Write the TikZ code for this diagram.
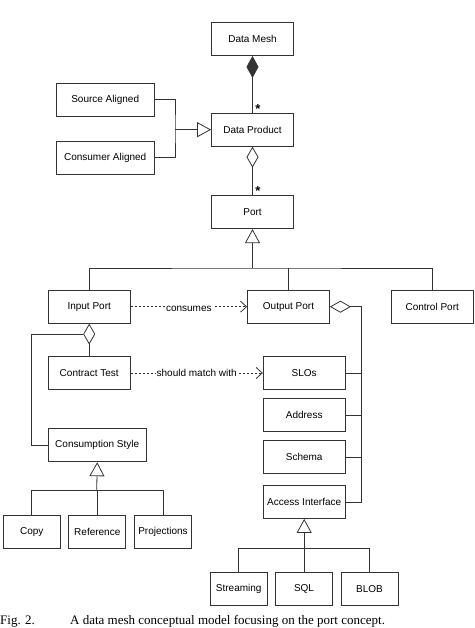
\documentclass[tikz,border=0pt]{standalone}
\usepackage{fontspec}
\setmainfont{Liberation Serif}
\setsansfont{Liberation Sans}
\usetikzlibrary{arrows.meta}

\tikzset{
  cls/.style={draw=black!80, line width=.8pt, minimum width=82pt, minimum height=33pt,
    inner sep=1pt, font=\sffamily\fontsize{10}{12}\selectfont},
  wide/.style={cls, minimum width=98pt},
  small/.style={cls, minimum width=57pt},
  lnk/.style={draw=black!80, line width=.8pt},
  gen/.style={lnk, -{Triangle[open, length=14pt, width=15pt]}},
  agg/.style={lnk, {Diamond[open, length=21pt, width=12pt]}-},
  comp/.style={lnk, {Diamond[length=22pt, width=12pt]}-},
  dep/.style={lnk, dash pattern=on 2pt off 2pt, -{Straight Barb[length=6pt, width=11pt]}},
  lbl/.style={fill=white, inner sep=1pt, font=\sffamily\fontsize{10}{12}\selectfont},
  mult/.style={font=\sffamily\bfseries\fontsize{13}{13}\selectfont, inner sep=0pt}
}

\begin{document}
\begin{tikzpicture}[x=1pt,y=-1pt]
\useasboundingbox (0,0) rectangle (474,628);
% top part
\node[cls] (mesh) at (252.5,39) {Data Mesh};
\node[cls] (prod) at (252.5,129.7) {Data Product};
\node[wide] (src) at (105.2,99.7) {Source Aligned};
\node[wide] (cons) at (105.2,157.5) {Consumer Aligned};
\node[cls] (port) at (252.5,212.2) {Port};
\draw[comp] (mesh.south) -- (prod.north);
\node[mult] at (258,109) {*};
\draw[agg] (prod.south) -- (port.north);
\node[mult] at (258,191) {*};
\coordinate (j1) at (175,129.7);
\draw[lnk] (src.east) -| (j1) |- (cons.east);
\draw[gen] (j1) -- (prod.west);
% ports
\node[cls] (inp) at (89.2,306.7) {Input Port};
\node[cls] (outp) at (288.5,306.7) {Output Port};
\node[cls] (ctrl) at (432.2,306.7) {Control Port};
\coordinate (j2) at (252.5,268);
\draw[gen] (j2) -- (port.south);
\draw[lnk] (inp.north) |- (j2) -| (ctrl.north);
\draw[lnk] (outp.north) -- (outp.north |- j2);
\draw[dep] (inp.east) -- node[lbl, yshift=-2pt] {consumes} (outp.west);
% input side
\node[cls] (test) at (89.2,373) {Contract Test};
\node[wide] (style) at (97.2,445.3) {Consumption Style};
\draw[agg] (inp.south) -- (test.north);
\coordinate (ipd) at (83,334.5);
\draw[lnk] (style.west) -| (31.7,334.5) -- (ipd);
\node[small] (copy) at (31.8,531.7) {Copy};
\node[small] (ref) at (97.3,531.7) {Reference};
\node[small] (proj) at (163,531.7) {Projections};
\coordinate (j3) at (96.7,490.7);
\draw[gen] (j3) -- (style.south);
\draw[lnk] (copy.north) |- (j3) -| (proj.north);
\draw[lnk] (ref.north) -- (ref.north |- j3);
% output side
\node[cls] (slo) at (304.2,373) {SLOs};
\node[cls] (addr) at (304.2,415.3) {Address};
\node[cls] (schema) at (304.2,457) {Schema};
\node[cls] (acc) at (304.2,502) {Access Interface};
\draw[dep] (test.east) -- node[lbl] {should match with} (slo.west);
\coordinate (bus) at (361.7,306.7);
\draw[agg] (outp.east) -- (bus) |- (acc.east);
\foreach \n in {slo,addr,schema} \draw[lnk] (\n.east) -- (bus |- \n.east);
\node[small] (strm) at (238.7,589) {Streaming};
\node[small] (sql) at (304,589) {SQL};
\node[small] (blob) at (369.5,589) {BLOB};
\coordinate (j4) at (304.2,548.3);
\draw[gen] (j4) -- (acc.south);
\draw[lnk] (strm.north) |- (j4) -| (blob.north);
\draw[lnk] (sql.north) -- (sql.north |- j4);
% caption
\node[anchor=base west, inner sep=0pt, font=\fontsize{13}{13}\selectfont] (fig) at (0,624.5) {Fig. 2.};
\node[anchor=base west, inner sep=0pt, font=\fontsize{13}{13}\selectfont] (cap) at (70,624.5) {A data mesh conceptual model focusing on the port concept.};
\end{tikzpicture}
\end{document}
